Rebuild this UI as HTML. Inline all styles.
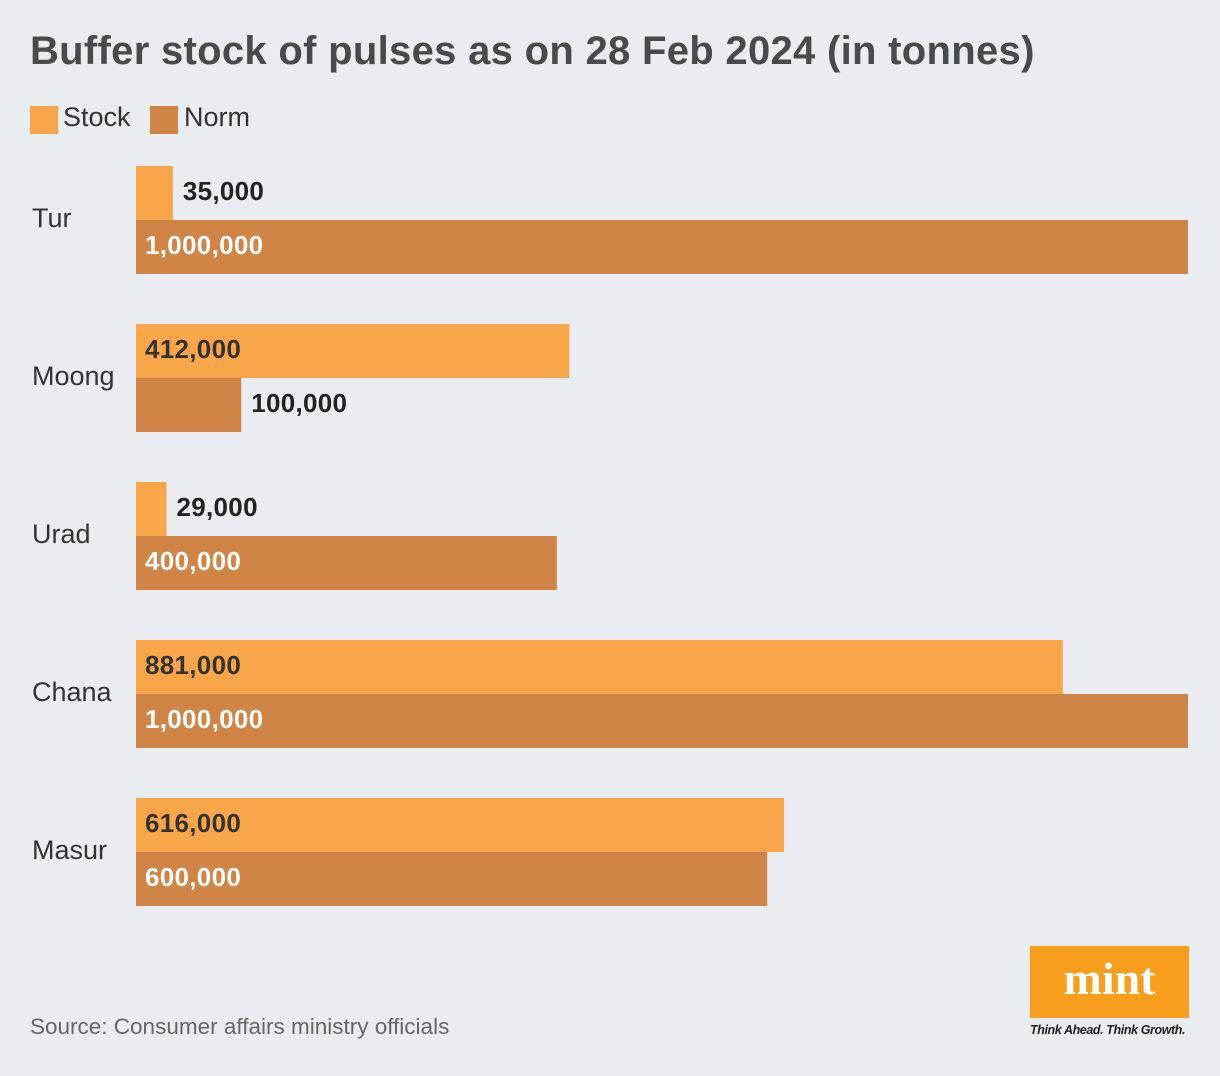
<!DOCTYPE html>
<html><head><meta charset="utf-8"><style>
body{margin:0;background:#e9ecf0;font-family:"Liberation Sans",sans-serif;}
#wrap{position:relative;width:1220px;height:1076px;background:#e9ecf0;overflow:hidden;}
.t{position:absolute;white-space:nowrap;}
</style></head><body>
<div id="wrap">
<div class="t" style="left:30px;top:29px;font-size:40px;font-weight:bold;color:#4a4a4a;letter-spacing:0.3px;">Buffer stock of pulses as on 28 Feb 2024 (in tonnes)</div>
<div style="position:absolute;left:30px;top:106px;width:28px;height:28px;background:#f9a64a"></div>
<div class="t" style="left:63px;top:102px;font-size:27px;color:#333">Stock</div>
<div style="position:absolute;left:150px;top:106px;width:28px;height:28px;background:#d08445"></div>
<div class="t" style="left:184px;top:102px;font-size:27px;color:#333">Norm</div>
<svg id="chart" width="1220" height="1076" style="position:absolute;left:0;top:0"></svg>
<div class="t" style="left:30px;top:1014px;font-size:22.5px;color:#666">Source: Consumer affairs ministry officials</div>
<div style="position:absolute;left:1030px;top:946px;width:159px;height:72px;background:#f99d1c;color:#fff;font-family:'Liberation Serif',serif;font-weight:bold;font-size:46px;text-align:center;line-height:66px;">mint</div>
<div class="t" style="left:1030px;top:1023px;font-size:12.5px;font-style:italic;font-weight:bold;color:#222;letter-spacing:-0.4px">Think Ahead. Think Growth.</div>
</div>
<script>
const categories=["Tur","Moong","Urad","Chana","Masur"];
const stockValues=[35000,412000,29000,881000,616000];
const normValues=[1000000,100000,400000,1000000,600000];
const svg=document.getElementById('chart');
const NS='http://www.w3.org/2000/svg';
const x0=136, pxPer=1052/1000000, top0=166, step=158, bh=54;
function xs(v){return v*pxPer;}
function fmt(v){return v.toLocaleString('en-US');}
function mk(tag,attrs){const e=document.createElementNS(NS,tag);for(const k in attrs)e.setAttribute(k,attrs[k]);svg.appendChild(e);return e;}
categories.forEach((c,i)=>{
  const y=top0+i*step;
  const lab=mk('text',{x:32,y:y+bh+7,'font-size':27,fill:'#333','font-family':'Liberation Sans, sans-serif'});
  lab.textContent=c;
  
  
  [[stockValues[i],'#f9a64a','#333',y,'stock'],[normValues[i],'#d08445','#fff',y+bh,'norm']].forEach(([v,col,tc,yy,s])=>{
    const w=xs(v);
    const r=mk('rect',{x:x0,y:yy,width:w,height:bh,fill:col});
    
    
    const txt=fmt(v);
    const inside=w>150;
    const t=mk('text',{x:inside?x0+9:x0+w+10,y:yy+bh/2+7,'font-size':26,'font-weight':'bold',fill:inside?tc:'#222','font-family':'Liberation Sans, sans-serif','letter-spacing':'0.3'});
    t.textContent=txt;
    
    
  });
});
</script>
</body></html>
